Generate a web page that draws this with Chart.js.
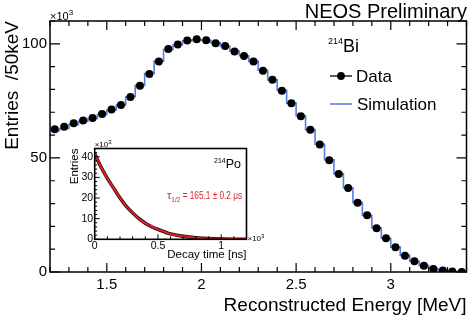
<!DOCTYPE html>
<html><head><meta charset="utf-8">
<script src="https://cdn.jsdelivr.net/npm/chart.js@4/dist/chart.umd.min.js"></script>
<style>
html,body{margin:0;padding:0;background:#fff;}
#wrap{position:relative;width:474px;height:318px;overflow:hidden;}
#main{position:absolute;left:0;top:0;}
#inset{position:absolute;left:62px;top:138px;}
</style></head><body>
<div id="wrap">
<canvas id="main" width="474" height="318"></canvas>
<canvas id="inset" width="210" height="124"></canvas>
</div>
<script>
// ---- main histogram (x10^3 entries per 50 keV), bins of 50 keV starting at 1.2 MeV
const binLow = 1.2;
const binWidth = 0.05;
const dataEntries = [62.6, 63.7, 65.2, 66.4, 67.5, 69.2, 71.2, 73.2, 76.7, 81.6,
  86.8, 92.2, 97.7, 99.7, 101.4, 102.0, 101.6, 100.3, 99.0, 96.6,
  94.7, 92.3, 88.2, 84.2, 79.4, 73.9, 68.3, 62.3, 55.9, 49.0,
  43.0, 36.8, 30.3, 24.9, 19.2, 14.8, 10.8, 7.1, 4.7, 2.7,
  1.3, 0.7, 0.2, 0.05];
const simEntries = [61.9, 62.9, 64.6, 66.0, 67.3, 69.0, 71.0, 73.2, 76.8, 81.8,
  87.0, 92.4, 97.5, 99.6, 101.3, 101.8, 101.5, 100.4, 99.0, 96.8,
  94.8, 92.3, 88.4, 84.2, 79.6, 74.0, 68.5, 62.4, 56.0, 49.2,
  43.0, 36.9, 30.4, 24.9, 19.4, 14.8, 10.9, 7.3, 4.7, 2.8,
  1.4, 0.7, 0.3, 0.1];
const energyTickLabels = ['1.5', '2', '2.5', '3'];
const entryTickLabels = ['0', '50', '100'];

// ---- inset: 214Po decay time (x10^3 ns) vs entries (x10^3)
const decayTime = [0, 0.05, 0.1, 0.15, 0.2, 0.25, 0.3, 0.35, 0.4, 0.45, 0.5, 0.6, 0.7, 0.8, 0.9, 1.0, 1.1, 1.2];
const decayEntries = [41.5, 35.0, 29.5, 24.8, 20.0, 16.0, 12.8, 10.0, 7.8, 6.1, 4.8, 2.6, 1.5, 0.8, 0.4, 0.2, 0.1, 0.05];
const decayTickLabels = ['0', '0.5', '1'];
const decayEntryTickLabels = ['0', '10', '20', '30', '40'];

const FONT = "'Liberation Sans', Arial, Helvetica, sans-serif";
const BLUE = '#5a7be0';
const RED = '#d8232a';

const dataPts = dataEntries.map((v, i) => ({x: binLow + (i + 0.5) * binWidth, y: v}));
const simPts = simEntries.map((v, i) => ({x: binLow + i * binWidth, y: v}));
simPts.push({x: binLow + simEntries.length * binWidth, y: simEntries[simEntries.length - 1]});

function txt(ctx, s, x, y, size, opts = {}) {
  ctx.save();
  ctx.font = (opts.weight || '') + ' ' + size + 'px ' + FONT;
  ctx.fillStyle = opts.color || '#000';
  ctx.textAlign = opts.align || 'left';
  ctx.textBaseline = opts.baseline || 'alphabetic';
  if (opts.maxWidth) ctx.fillText(s, x, y, opts.maxWidth); else ctx.fillText(s, x, y);
  const w = ctx.measureText(s).width;
  ctx.restore();
  return opts.maxWidth ? Math.min(w, opts.maxWidth) : w;
}

const mainDeco = {
  id: 'mainDeco',
  afterDraw(chart) {
    const ctx = chart.ctx, a = chart.chartArea, xs = chart.scales.x, ys = chart.scales.y;
    ctx.save();
    ctx.strokeStyle = '#000';
    ctx.lineWidth = 1.5;
    ctx.strokeRect(a.left, a.top, a.right - a.left, a.bottom - a.top);
    ctx.lineWidth = 1.2;
    ctx.beginPath();
    for (let k = 12; k <= 34; k++) {
      const px = xs.getPixelForValue(k / 10);
      const L = (k % 5 === 0) ? 9 : 5;
      ctx.moveTo(px, a.bottom); ctx.lineTo(px, a.bottom - L);
      ctx.moveTo(px, a.top); ctx.lineTo(px, a.top + L);
    }
    for (let v = 0; v <= 110; v += 10) {
      const py = ys.getPixelForValue(v);
      const L = (v % 50 === 0) ? 10 : 5;
      ctx.moveTo(a.left, py); ctx.lineTo(a.left + L, py);
      ctx.moveTo(a.right, py); ctx.lineTo(a.right - L, py);
    }
    ctx.stroke();
    // exponent label
    let w = txt(ctx, '\u00d710', a.left, 20, 11);
    txt(ctx, '3', a.left + w, 15, 8);
    // title
    txt(ctx, 'NEOS Preliminary', 467, 18, 20, {align: 'right'});
    // isotope label
    w = txt(ctx, '214', 328, 44, 9);
    txt(ctx, 'Bi', 328 + w, 52, 18);
    // legend
    ctx.strokeStyle = '#000'; ctx.lineWidth = 1.3;
    ctx.beginPath(); ctx.moveTo(330, 76); ctx.lineTo(352, 76); ctx.stroke();
    ctx.fillStyle = '#000';
    ctx.beginPath(); ctx.arc(341, 76, 3.9, 0, Math.PI * 2); ctx.fill();
    txt(ctx, 'Data', 356, 82, 17);
    ctx.strokeStyle = BLUE; ctx.lineWidth = 1.5;
    ctx.beginPath(); ctx.moveTo(330, 104); ctx.lineTo(352, 104); ctx.stroke();
    txt(ctx, 'Simulation', 357, 110, 17);
    ctx.restore();
  }
};

new Chart(document.getElementById('main'), {
  type: 'scatter',
  data: {
    datasets: [
      {label: 'Data', data: dataPts, showLine: false, pointRadius: 4, pointHoverRadius: 4,
       pointBackgroundColor: '#000', pointBorderWidth: 0, order: 0},
      {label: 'Simulation', data: simPts, showLine: true, stepped: 'before', borderColor: BLUE,
       borderWidth: 1.6, pointRadius: 0, fill: false, order: 1}
    ]
  },
  options: {
    responsive: false, animation: false, devicePixelRatio: 1,
    layout: {padding: {top: 21, right: 7.5, left: 0, bottom: 0}},
    plugins: {legend: {display: false}, tooltip: {enabled: false}},
    scales: {
      x: {
        type: 'linear', min: 1.2, max: 3.4,
        grid: {display: false, drawTicks: false}, border: {display: false},
        ticks: {stepSize: 0.5, includeBounds: false, maxRotation: 0, autoSkip: false, padding: 4,
          color: '#000', font: {size: 15, family: FONT},
          callback: (v) => { const i = [1.5, 2, 2.5, 3].indexOf(+v.toFixed(2)); return i >= 0 ? energyTickLabels[i] : ''; }},
        title: {display: true, text: 'Reconstructed Energy [MeV]', align: 'end', color: '#000',
          font: {size: 19, family: FONT}, padding: {top: 0, bottom: 1}},
        afterFit: (s) => { s.height = 46; }
      },
      y: {
        min: 0, max: 110,
        grid: {display: false, drawTicks: false}, border: {display: false},
        ticks: {stepSize: 50, includeBounds: false, padding: 3, color: '#000', font: {size: 15, family: FONT},
          callback: (v) => { const i = [0, 50, 100].indexOf(v); return i >= 0 ? entryTickLabels[i] : ''; }},
        title: {display: true, text: 'Entries  /50keV', align: 'end', color: '#000',
          font: {size: 19, family: FONT}, padding: {top: 1, bottom: 0}},
        afterFit: (s) => { s.width = 50; }
      }
    }
  },
  plugins: [mainDeco]
});

const insetDeco = {
  id: 'insetDeco',
  afterDraw(chart) {
    const ctx = chart.ctx, a = chart.chartArea, xs = chart.scales.x, ys = chart.scales.y;
    ctx.save();
    ctx.strokeStyle = '#000';
    ctx.lineWidth = 1.6;
    ctx.strokeRect(a.left, a.top, a.right - a.left, a.bottom - a.top);
    ctx.lineWidth = 1;
    ctx.beginPath();
    for (let k = 0; k <= 12; k++) {
      const px = xs.getPixelForValue(k / 10);
      const L = (k % 5 === 0) ? 5 : 3;
      ctx.moveTo(px, a.bottom); ctx.lineTo(px, a.bottom - L);
    }
    for (let v = 0; v <= 44; v += 2) {
      const py = ys.getPixelForValue(v);
      const L = (v % 10 === 0) ? 5 : 2.5;
      ctx.moveTo(a.left, py); ctx.lineTo(a.left + L, py);
    }
    ctx.stroke();
    let w = txt(ctx, '\u00d710', a.left, 9, 8);
    txt(ctx, '3', a.left + w, 6, 6);
    w = txt(ctx, '\u00d710', a.right + 1, 103, 8);
    txt(ctx, '3', a.right + 1 + w, 100, 6);
    w = txt(ctx, '214', 152, 25, 7);
    txt(ctx, 'Po', 152 + w, 30, 12.5);
    // tau label
    let x = 105;
    x += txt(ctx, '\u03c4', x, 61, 11, {color: RED});
    x += txt(ctx, '1/2', x, 64, 6.5, {color: RED});
    txt(ctx, ' = 165.1 \u00b1 0.2 \u03bcs', x, 61, 11, {color: RED, maxWidth: 180 - x});
    ctx.restore();
  }
};

const decayPts = decayEntries.map((v, i) => ({x: decayTime[i], y: v}));

new Chart(document.getElementById('inset'), {
  type: 'scatter',
  data: {
    datasets: [
      {label: 'Fit', data: decayPts, showLine: true, borderColor: RED, borderWidth: 2,
       pointRadius: 0, cubicInterpolationMode: 'monotone', fill: false, order: 0},
      {label: 'Decay data', data: decayPts, showLine: true, borderColor: '#200', borderWidth: 3.4,
       pointRadius: 0, cubicInterpolationMode: 'monotone', fill: false, order: 1}
    ]
  },
  options: {
    responsive: false, animation: false, devicePixelRatio: 1,
    layout: {padding: {top: 10.5, right: 25.5, left: 0, bottom: 0}},
    plugins: {legend: {display: false}, tooltip: {enabled: false}},
    scales: {
      x: {
        type: 'linear', min: 0, max: 1.2,
        grid: {display: false, drawTicks: false}, border: {display: false},
        ticks: {stepSize: 0.5, includeBounds: false, maxRotation: 0, autoSkip: false, padding: 1,
          color: '#000', font: {size: 10.5, family: FONT},
          callback: (v) => { const i = [0, 0.5, 1].indexOf(+v.toFixed(2)); return i >= 0 ? decayTickLabels[i] : ''; }},
        title: {display: true, text: 'Decay time [ns]', align: 'end', color: '#000',
          font: {size: 11.5, family: FONT}, padding: {top: 0, bottom: 0}},
        afterFit: (s) => { s.height = 22.7; }
      },
      y: {
        min: 0, max: 44,
        grid: {display: false, drawTicks: false}, border: {display: false},
        ticks: {stepSize: 10, includeBounds: false, padding: 1.5, color: '#000', font: {size: 10.5, family: FONT},
          callback: (v) => { const i = [0, 10, 20, 30, 40].indexOf(v); return i >= 0 ? decayEntryTickLabels[i] : ''; }},
        title: {display: true, text: 'Entries', align: 'end', color: '#000',
          font: {size: 11.5, family: FONT}, padding: {top: 6, bottom: 0}},
        afterFit: (s) => { s.width = 32.7; }
      }
    }
  },
  plugins: [insetDeco]
});
</script>
</body></html>
